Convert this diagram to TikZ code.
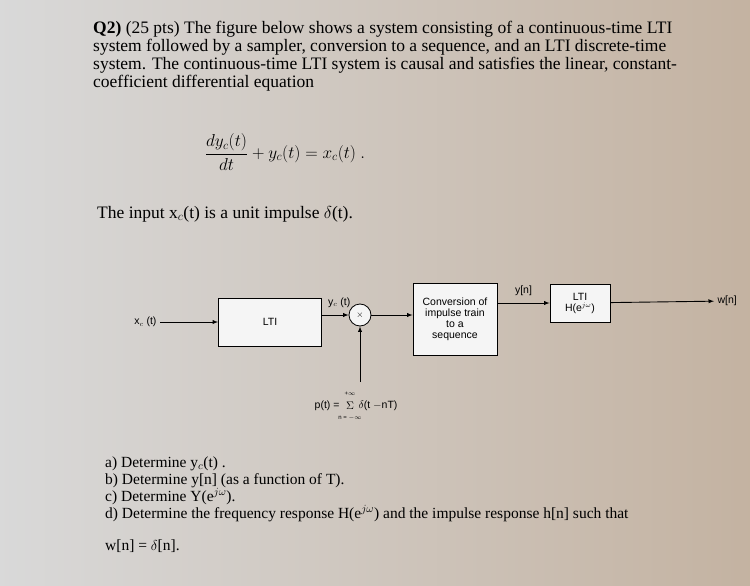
\documentclass[tikz,border=0pt]{standalone}
\usepackage{fontspec}
\setmainfont{Liberation Serif}
\newfontfamily\dsans{Liberation Sans}
\begin{document}
\begin{tikzpicture}[x=1pt,y=-1pt,
 blk/.style={draw,line width=0.8pt,fill=white!92!gray,font=\dsans\fontsize{10.5}{11}\selectfont,align=center,inner sep=1pt},
 lbl/.style={font=\dsans\fontsize{10.5}{11}\selectfont},
 arr/.style={-latex,line width=0.9pt},
 txt/.style={anchor=base west,font=\fontsize{17.5}{20}\selectfont,inner sep=0},
 qtxt/.style={anchor=base west,font=\fontsize{15.5}{17}\selectfont,inner sep=0}]
\useasboundingbox (0,0) rectangle (750,586);
\shade[left color=gray!30, right color=brown!45!gray!60] (0,0) rectangle (750,586);
\node[txt] (l1) at (93,34) {\textbf{Q2)} (25 pts) The figure below shows a system consisting of a continuous-time LTI};
\node[txt] (l2) at (93,52) {system followed by a sampler, conversion to a sequence, and an LTI discrete-time};
\node[txt] (l3) at (93,70) {system. The continuous-time LTI system is causal and satisfies the linear, constant-};
\node[txt] (l4) at (93,88) {coefficient differential equation};
\node[font=\fontsize{17}{20}\selectfont] (eq) at (285,152) {$\displaystyle \frac{dy_c(t)}{dt}+y_c(t)=x_c(t)\ .$};
\node[txt] (l5) at (97,218) {The input x$_c$(t) is a unit impulse $\delta$(t).};
\node[blk,minimum width=103,minimum height=48] (lti) at (270,322) {LTI};
\node[circle,draw,line width=0.8pt,fill=white!92!gray,inner sep=0,minimum size=22,font=\dsans\small] (mul) at (360,315) {$\times$};
\node[blk,minimum width=84,minimum height=72] (conv) at (455,319) {Conversion of\\impulse train\\to a\\sequence};
\node[blk,minimum width=60,minimum height=38] (h) at (580,303) {LTI\\H(e$^{j\omega}$)};
\node[lbl,anchor=east] (xc) at (160,322) {x$_c$ (t)};
\node[lbl,anchor=west] (wn) at (714,301) {w[n]};
\node[lbl,anchor=east] (p) at (343,406) {p(t) =};
\node[lbl,inner sep=0] (sig) at (350,406) {$\Sigma$};
\node[lbl,anchor=west] (pd) at (355,406) {$\delta$(t $-$nT)};
\node[font=\dsans\fontsize{6}{6}\selectfont,inner sep=0] (up) at (350,394) {+$\infty$};
\node[font=\dsans\fontsize{6}{6}\selectfont,inner sep=0] (lo) at (350,418) {n = $-\infty$};
\coordinate (pb) at (360,382);
\draw[arr] (xc) -- (lti.west|-xc);
\draw[arr] (lti.east|-mul) -- node[lbl,above,yshift=4pt,xshift=4pt]{y$_c$ (t)} (mul);
\draw[arr] (mul) -- (conv.west|-mul);
\draw[arr] (conv.east|-h) -- node[lbl,above,yshift=4pt]{y[n]} (h);
\draw[arr] (h) -- (wn);
\draw[arr] (pb) -- (mul);
\node[qtxt] (a) at (105,467) {a) Determine y$_c$(t) .};
\node[qtxt] (b) at (105,484) {b) Determine y[n] (as a function of T).};
\node[qtxt] (c) at (105,501) {c) Determine Y(e$^{j\omega}$).};
\node[qtxt] (d) at (105,518) {d) Determine the frequency response H(e$^{j\omega}$) and the impulse response h[n] such that};
\node[qtxt] (e) at (105,550) {w[n] = $\delta$[n].};
\end{tikzpicture}
\end{document}
